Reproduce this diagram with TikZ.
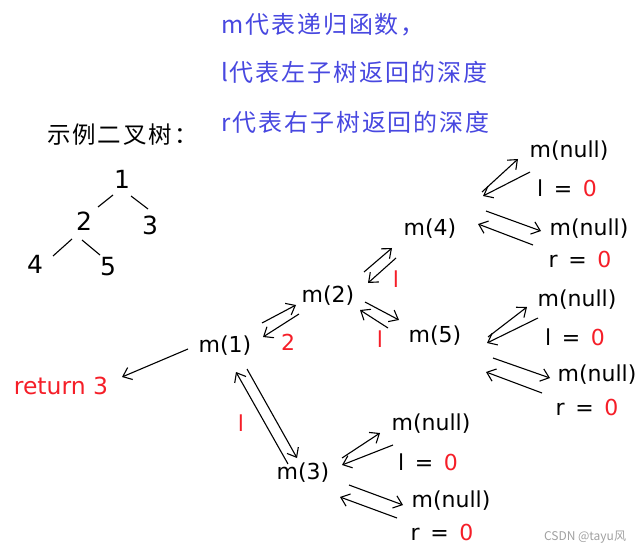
\documentclass[tikz,border=0pt]{standalone}
\usepackage{fontspec}
\setmainfont{DejaVu Sans}
\newfontfamily\cjk{Noto Sans CJK SC}
\newfontfamily\cjkw[LetterSpace=8]{Noto Sans CJK SC}
\usetikzlibrary{arrows.meta}
\definecolor{tblue}{RGB}{72,72,224}
\definecolor{tred}{RGB}{245,30,40}
\definecolor{wm}{RGB}{160,160,160}
\newcommand{\eqz}[1]{#1\hspace{0.48em}=\hspace{0.48em}\textcolor{tred}{0}}
\tikzset{
  lab/.style={font=\fontsize{22}{26}\selectfont, inner sep=0pt, text=black},
  rlab/.style={font=\fontsize{22}{26}\selectfont, inner sep=0pt, text=tred},
  cnb/.style={font=\cjkw\fontsize{24}{28}\selectfont, inner sep=0pt, text=tblue, anchor=west},
  digit/.style={font=\fontsize{25}{29}\selectfont, inner sep=0pt},
  arr/.style={line width=1.1pt, -{Straight Barb[length=8pt,width=13pt]}},
  tline/.style={line width=1.1pt}
}
\begin{document}
\begin{tikzpicture}[x=1pt,y=-1pt]
\useasboundingbox (0,0) rectangle (642,553);
% legend text
\node[cnb] (t1) at (221,25) {m代表递归函数，};
\node[cnb] (t2) at (221,72) {l代表左子树返回的深度};
\node[cnb] (t3) at (221,122) {r代表右子树返回的深度};
\node[cnb, text=black, font=\cjkw\fontsize{23.5}{28}\selectfont] (ex) at (47,135) {示例二叉树：};
% example tree
\node[digit] (d1) at (122,179) {1};
\node[digit] (d2) at (84,221) {2};
\node[digit] (d3) at (150,225) {3};
\node[digit] (d4) at (35,264) {4};
\node[digit] (d5) at (108,267) {5};
\draw[tline] ([shift={(-9,16)}]d1.center) -- ([shift={(14,-14)}]d2.center);
\draw[tline] ([shift={(9,17)}]d1.center) -- ([shift={(-2,-16)}]d3.center);
\draw[tline] ([shift={(-12,18)}]d2.center) -- ([shift={(18,-8)}]d4.center);
\draw[tline] ([shift={(-2,19)}]d2.center) -- ([shift={(-8,-12)}]d5.center);
% recursion nodes
\node[lab] (m1) at (225,346) {m(1)};
\node[lab] (m2) at (328,296) {m(2)};
\node[lab] (m3) at (303,473) {m(3)};
\node[lab] (m4) at (430,229) {m(4)};
\node[lab] (m5) at (435,336) {m(5)};
\node[rlab, font=\fontsize{23.5}{28}\selectfont] (ret) at (61,386) {return 3};
\node[lab] (nA) at (569,151) {m(null)};
\node[lab] (lA) at (567,188) {\eqz{l}};
\node[lab] (nB) at (589,229) {m(null)};
\node[lab] (rB) at (580,259) {\eqz{r}};
\node[lab] (nC) at (577,300) {m(null)};
\node[lab] (lC) at (575,337) {\eqz{l}};
\node[lab] (nD) at (597,375) {m(null)};
\node[lab] (rD) at (587,407) {\eqz{r}};
\node[lab] (nE) at (431,424) {m(null)};
\node[lab] (lE) at (428,462) {\eqz{l}};
\node[lab] (nF) at (451,501) {m(null)};
\node[lab] (rF) at (442,532) {\eqz{r}};
% red return values
\node[rlab] (v12) at (288,342) {2};
\node[rlab] (v25) at (380,339) {l};
\node[rlab] (v24) at (396,279) {l};
\node[rlab] (v13) at (241,423) {l};
% arrows
\draw[arr] ([shift={(-37,3)}]m1.center) -- ([shift={(61,-9)}]ret.center);
\draw[arr] ([shift={(37,-23)}]m1.center) -- ([shift={(-32,9)}]m2.center);
\draw[arr] ([shift={(-29,18)}]m2.center) -- ([shift={(38,-9)}]m1.center);
\draw[arr] ([shift={(36,-24)}]m2.center) -- ([shift={(-38,19)}]m4.center);
\draw[arr] ([shift={(-34,29)}]m4.center) -- ([shift={(40,-13)}]m2.center);
\draw[arr] ([shift={(37,6)}]m2.center) -- ([shift={(-36,-16)}]m5.center);
\draw[arr] ([shift={(-47,-8)}]m5.center) -- ([shift={(32,14)}]m2.center);
\draw[arr] ([shift={(22,23)}]m1.center) -- ([shift={(-6,-15)}]m3.center);
\draw[arr] ([shift={(-15,-9)}]m3.center) -- ([shift={(11,26)}]m1.center);
\draw[arr] ([shift={(52,-37)}]m4.center) -- ([shift={(-51,8)}]nA.center);
\draw[arr] ([shift={(-39,21)}]nA.center) -- ([shift={(53,-33)}]m4.center);
\draw[arr] ([shift={(56,-18)}]m4.center) -- ([shift={(-48,2)}]nB.center);
\draw[arr] ([shift={(-56,16)}]nB.center) -- ([shift={(48,-5)}]m4.center);
\draw[arr] ([shift={(53,1)}]m5.center) -- ([shift={(-50,7)}]nC.center);
\draw[arr] ([shift={(-39,18)}]nC.center) -- ([shift={(52,7)}]m5.center);
\draw[arr] ([shift={(58,22)}]m5.center) -- ([shift={(-47,3)}]nD.center);
\draw[arr] ([shift={(-55,18)}]nD.center) -- ([shift={(51,36)}]m5.center);
\draw[arr] ([shift={(39,-15)}]m3.center) -- ([shift={(-51,9)}]nE.center);
\draw[arr] ([shift={(-38,21)}]nE.center) -- ([shift={(39,-8)}]m3.center);
\draw[arr] ([shift={(46,12)}]m3.center) -- ([shift={(-48,4)}]nF.center);
\draw[arr] ([shift={(-54,17)}]nF.center) -- ([shift={(37,24)}]m3.center);
% watermark
\node[font=\cjk\fontsize{12}{14}\selectfont, text=wm, inner sep=0pt] (wmk) at (585,537) {CSDN @tayu风};
\end{tikzpicture}
\end{document}
